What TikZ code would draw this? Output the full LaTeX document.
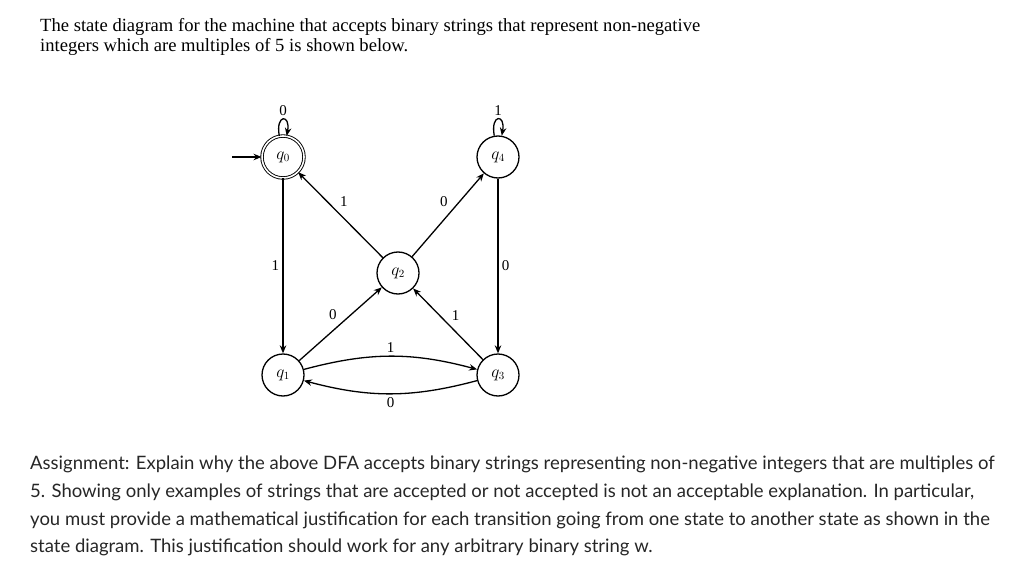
\documentclass[tikz,border=0pt]{standalone}
\usepackage{fontspec}
\setmainfont{Liberation Serif}
\newfontfamily\latofont{Lato}
\usetikzlibrary{arrows.meta,automata}
\begin{document}
\begin{tikzpicture}[x=1pt,y=-1pt,
  st/.style={circle,draw,line width=1.3pt,minimum size=42pt,inner sep=0pt,font=\fontsize{16}{16}\selectfont},
  acc/.style={st,double,double distance=1.6pt,line width=0.9pt},
  tr/.style={-{Stealth[length=8pt,width=6.5pt]},line width=1.3pt},
  lb/.style={font=\fontsize{15}{15}\selectfont},
  top/.style={anchor=west,inner sep=0pt,font=\fontsize{18.6}{18}\selectfont},
  bot/.style={anchor=west,inner sep=0pt,font=\latofont\fontsize{18.5}{18}\selectfont,text=black!85}]
\useasboundingbox (0,0) rectangle (1024,569);
\node[top] (t1) at (40,27) {The state diagram for the machine that accepts binary strings that represent non-negative};
\node[top] (t2) at (40,47) {integers which are multiples of 5 is shown below.};
\node[acc] (q0) at (283,157) {$q_0$};
\node[st] (q1) at (283,375) {$q_1$};
\node[st] (q2) at (398,273) {$q_2$};
\node[st] (q3) at (498,375) {$q_3$};
\node[st] (q4) at (498,157) {$q_4$};
\coordinate (s) at (232,157);
\draw[tr] (s) -- (q0);
\draw[tr] (q0.100) .. controls +(-4,-22) and +(4,-22) .. node[lb,above] {0} (q0.80);
\draw[tr] (q4.100) .. controls +(-4,-22) and +(4,-22) .. node[lb,above] {1} (q4.80);
\draw[tr] (q0) -- node[lb,left,pos=0.5] {1} (q1);
\draw[tr] (q4) -- node[lb,right,pos=0.5] {0} (q3);
\draw[tr] (q2) -- node[lb,above right,pos=0.55] {1} (q0);
\draw[tr] (q2) -- node[lb,above left,pos=0.55] {0} (q4);
\draw[tr] (q1) -- node[lb,above left] {0} (q2);
\draw[tr] (q3) -- node[lb,above right] {1} (q2);
\draw[tr] (q1) to[bend left=15] node[lb,above] {1} (q3);
\draw[tr] (q3) to[bend left=15] node[lb,below] {0} (q1);
\node[bot] (b1) at (30,464) {Assignment: Explain why the above DFA accepts binary strings representing non-negative integers that are multiples of};
\node[bot] (b2) at (30,492) {5. Showing only examples of strings that are accepted or not accepted is not an acceptable explanation. In particular,};
\node[bot] (b3) at (30,520) {you must provide a mathematical justification for each transition going from one state to another state as shown in the};
\node[bot] (b4) at (30,547) {state diagram. This justification should work for any arbitrary binary string w.};
\end{tikzpicture}
\end{document}
